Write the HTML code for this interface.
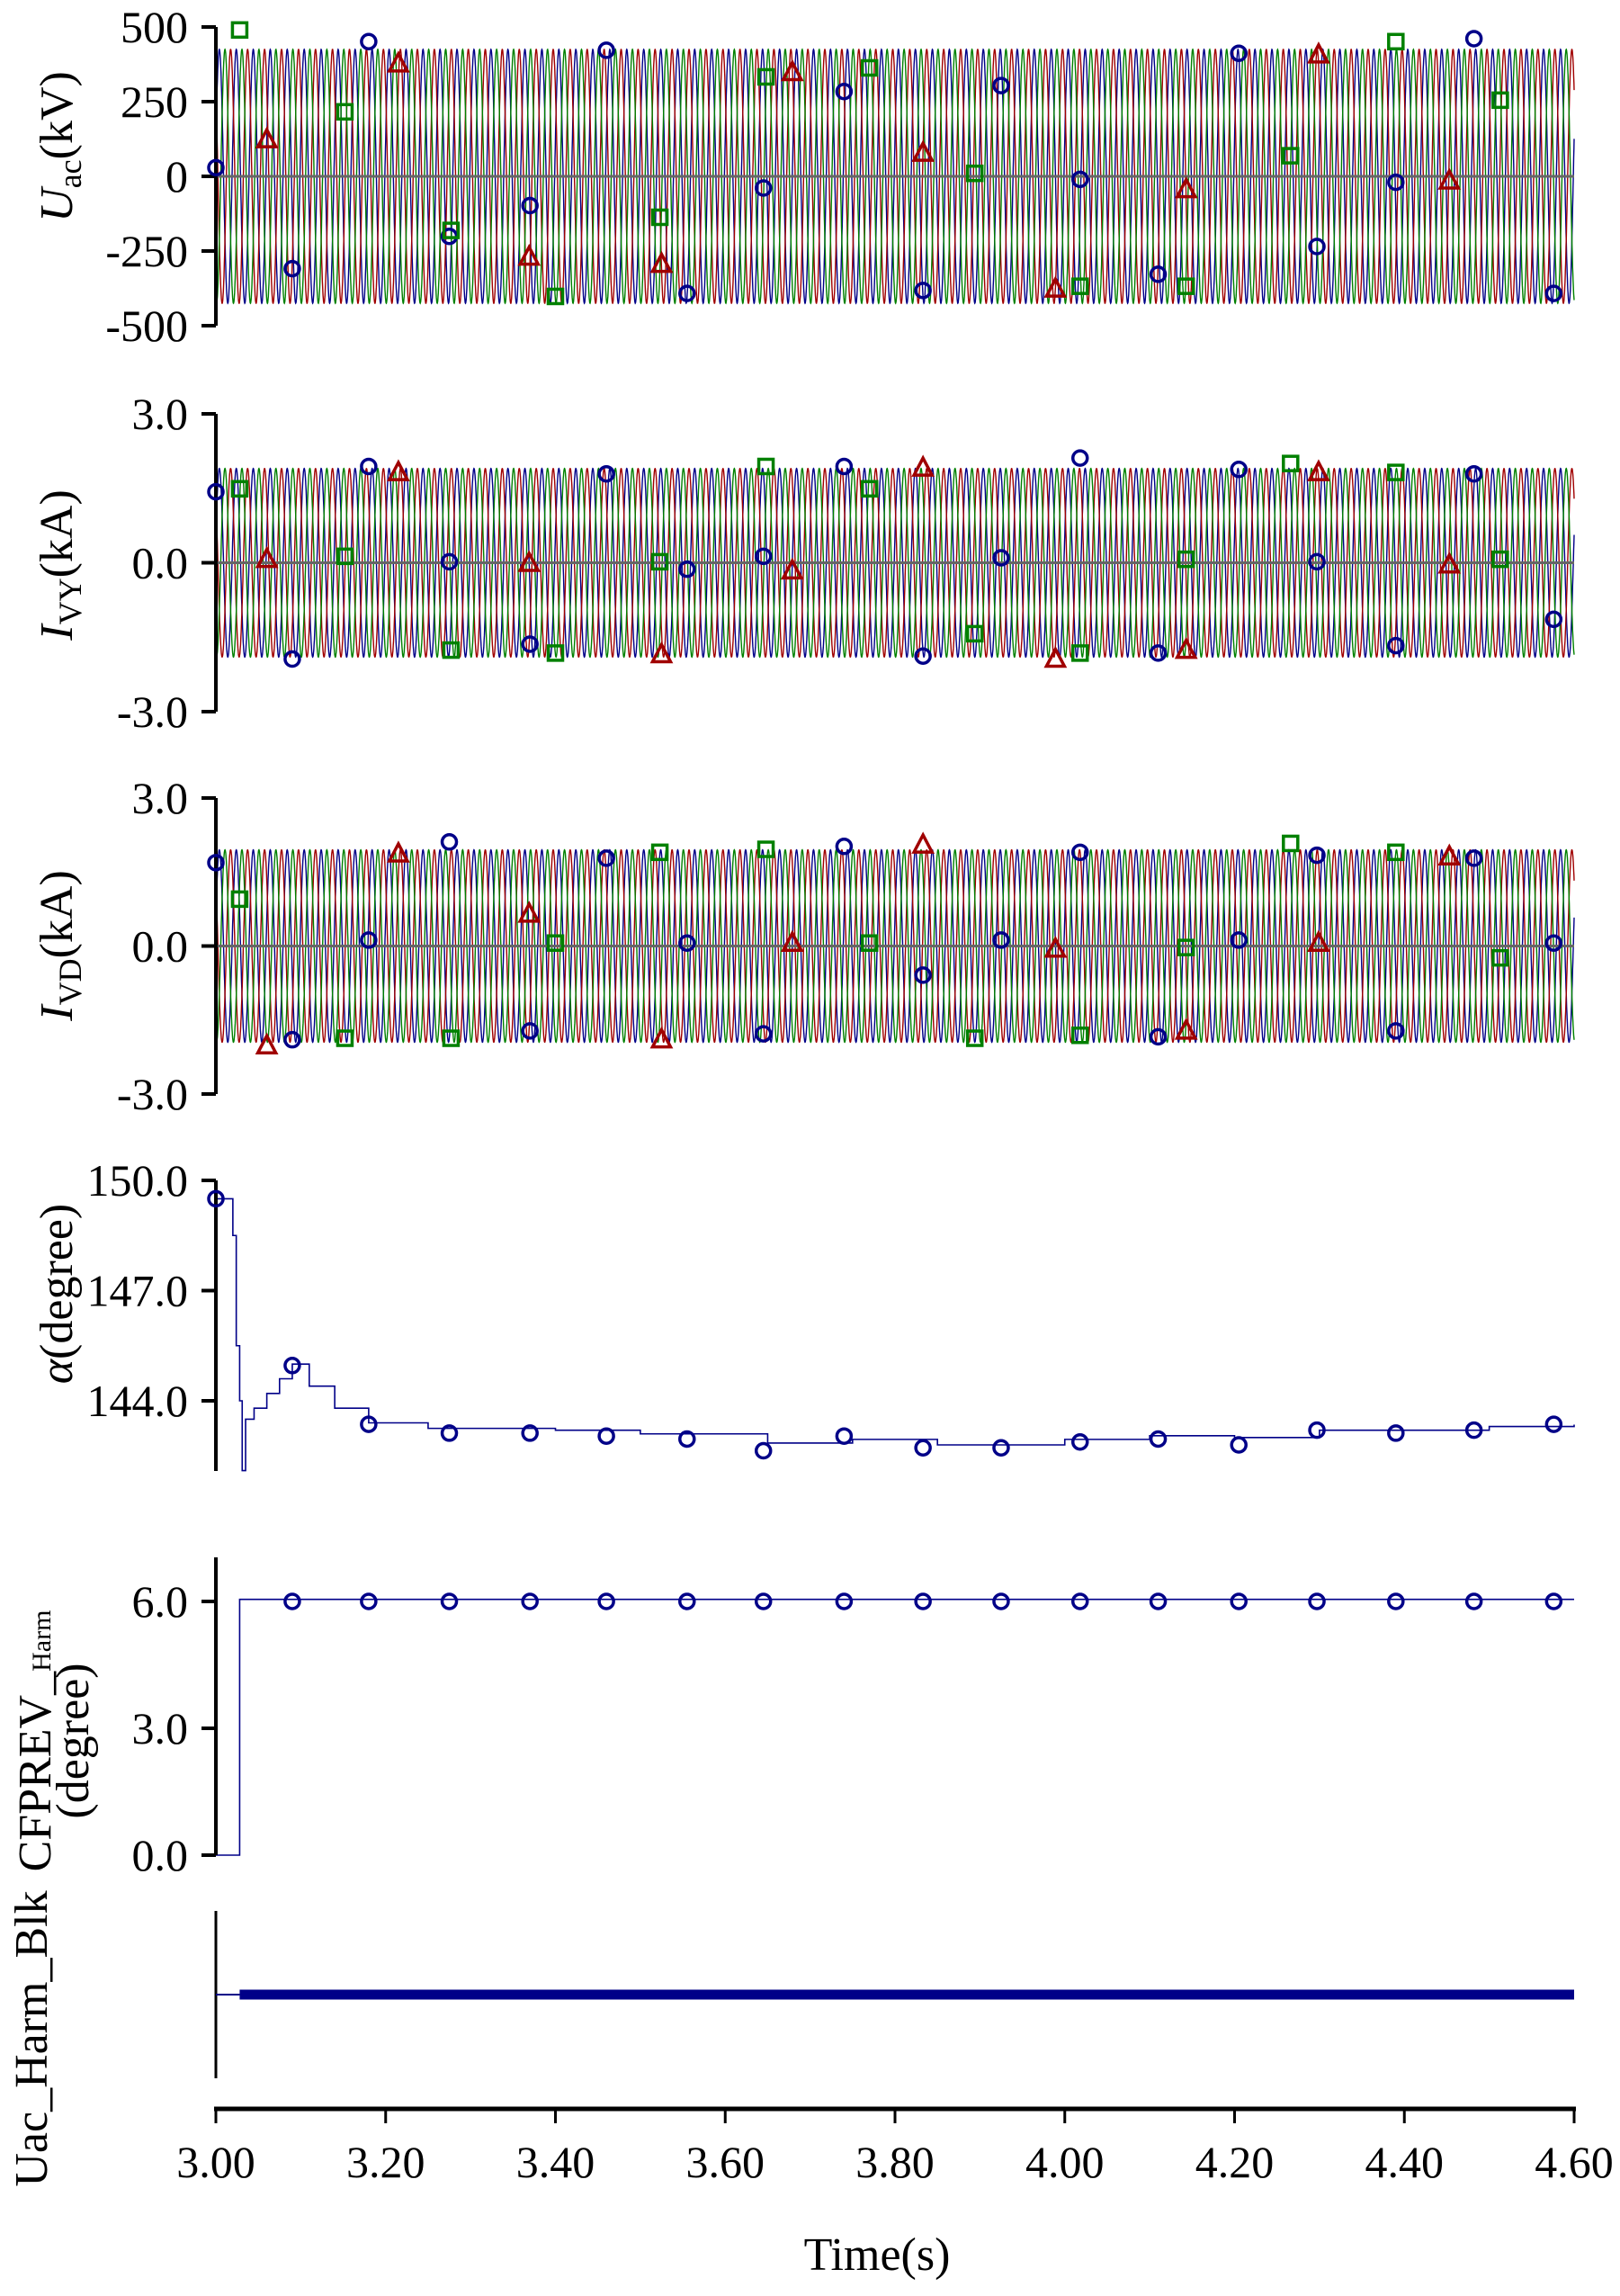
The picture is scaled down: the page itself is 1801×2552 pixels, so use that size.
<!DOCTYPE html>
<html><head><meta charset="utf-8"><style>
html,body{margin:0;padding:0;background:#fff}
svg{display:block}
text{font-family:"Liberation Serif",serif;fill:#000}
</style></head><body>
<svg id="chart" xmlns="http://www.w3.org/2000/svg" width="1801" height="2552" viewBox="0 0 1801 2552">
<g id="layer"></g>
</svg>
<script>
// ---------- data ----------
const xTicks = [3.0,3.2,3.4,3.6,3.8,4.0,4.2,4.4,4.6];
const xTickLabels = ["3.00","3.20","3.40","3.60","3.80","4.00","4.20","4.40","4.60"];
const circleT = [3.00,3.09,3.18,3.275,3.37,3.46,3.555,3.645,3.74,3.833,3.925,4.018,4.11,4.205,4.297,4.39,4.482,4.576];
const squareT = [3.028,3.152,3.277,3.40,3.523,3.648,3.77,3.894,4.018,4.143,4.266,4.39,4.513];
const triT = [3.06,3.215,3.369,3.525,3.679,3.833,3.989,4.143,4.299,4.453];

const uacCircle = [29,-309,451,-201,-98,422,-392,-39,284,-382,304,-10,-328,412,-235,-20,461,-392];
const uacSquare = [490,216,-181,-402,-137,333,363,10,-368,-368,69,451,255];
const uacTri = [123,377,-270,-294,348,78,-377,-44,407,-15];

const ivyCircle = [1.43,-1.94,1.94,0.02,-1.64,1.79,-0.13,0.13,1.94,-1.88,0.10,2.11,-1.82,1.88,0.02,-1.67,1.79,-1.14];
const ivySquare = [1.49,0.13,-1.76,-1.82,0.02,1.94,1.49,-1.43,-1.82,0.07,2.00,1.82,0.07];
const ivyTri = [0.07,1.82,-0.01,-1.85,-0.16,1.91,-1.94,-1.76,1.82,-0.04];

const ivdCircle = [1.69,-1.90,0.12,2.11,-1.72,1.78,0.06,-1.78,2.02,-0.59,0.12,1.90,-1.84,0.12,1.84,-1.72,1.78,0.06];
const ivdSquare = [0.95,-1.87,-1.87,0.06,1.90,1.96,0.06,-1.87,-1.81,-0.03,2.08,1.90,-0.24];
const ivdTri = [-2.02,1.87,0.65,-1.90,0.06,2.05,-0.06,-1.72,0.06,1.81];

const waveAmp = [425, 1.9, 1.95];
const waveFreq = 50;

const alphaT = [3.00,3.018,3.02,3.024,3.028,3.031,3.035,3.045,3.06,3.075,3.09,3.11,3.14,3.18,3.25,3.4,3.5,3.65,3.75,3.85,4.0,4.1,4.2,4.3,4.4,4.5,4.6];
const alphaV = [149.5,149.5,148.5,145.5,144,142.1,143.5,143.8,144.2,144.6,145.0,144.4,143.8,143.4,143.25,143.2,143.1,142.85,142.95,142.8,142.95,143.05,143.0,143.2,143.2,143.3,143.35];
const alphaCircle = [149.5,144.96,143.36,143.12,143.12,143.04,142.96,142.64,143.04,142.72,142.72,142.88,142.96,142.8,143.2,143.12,143.2,143.36];

const cfT = [3.0,3.028,3.028,4.6];
const cfV = [0.0,0.0,6.05,6.05];
const cfCircle = [6,6,6,6,6,6,6,6,6,6,6,6,6,6,6,6,6];

const blkT = [3.0,3.028,4.6];
const blkV = [1,1,1];

// ---------- helpers ----------
const NS = "http://www.w3.org/2000/svg";
const layer = document.getElementById('layer');
const X0 = 240, X1 = 1750;
function xs(t){ return X0 + (t-3.0)/(1.6)*(X1-X0); }
function mk(tag, attrs, parent){
  const e = document.createElementNS(NS, tag);
  for (const k in attrs) e.setAttribute(k, attrs[k]);
  (parent||layer).appendChild(e);
  return e;
}
function yScale(d0,d1,p0,p1){ return v => p0 + (v-d0)/(d1-d0)*(p1-p0); }

const BLUE="#000088", RED="#a00000", GREEN="#008000";

function yAxis(ys, top, bottom, ticks, labels, name){
  const g = mk('g',{});
  
  
  mk('line',{x1:X0,y1:top,x2:X0,y2:bottom,stroke:'#000','stroke-width':4},g);
  ticks.forEach((v,i)=>{
    const y = ys(v);
    mk('line',{x1:X0-16,y1:y,x2:X0,y2:y,stroke:'#000','stroke-width':4},g);
    const t = mk('text',{x:209,y:y+17,'text-anchor':'end','font-size':50},g);
    
    
    t.textContent = labels[i];
  });
}
function circles(ts, vs, ys, color, name){
  const g = mk('g',{});
  
  
  ts.forEach((t,i)=>{ if(i<vs.length) mk('circle',{cx:xs(t),cy:ys(vs[i]),r:8,fill:'none',stroke:color,'stroke-width':3.5},g); });
}
function squares(ts, vs, ys, color, name){
  const g = mk('g',{});
  
  
  ts.forEach((t,i)=>{ mk('rect',{x:xs(t)-8,y:ys(vs[i])-8,width:16,height:16,fill:'none',stroke:color,'stroke-width':3.5},g); });
}
function tris(ts, vs, ys, color, name){
  const g = mk('g',{});
  
  
  ts.forEach((t,i)=>{ const x=xs(t), y=ys(vs[i]);
    mk('polygon',{points:`${x},${y-11} ${x+10},${y+8} ${x-10},${y+8}`,fill:'none',stroke:color,'stroke-width':3.5},g); });
}
function wave(ys, amp, name){
  const g = mk('g',{});
  
  
  const cols=[BLUE,RED,GREEN];
  for(let p=0;p<3;p++){
    const dt = 0.00025;
    let d = '';
    for(let k=0; 3+k*dt<=4.6+1e-9; k++){
      const t = 3+k*dt;
      const v = amp*Math.sin(2*Math.PI*waveFreq*t + p*2*Math.PI/3 + 0.3);
      const x = xs(t), y = ys(v);
      d += (k? 'L':'M') + x.toFixed(1)+','+y.toFixed(1);
    }
    mk('path',{d:d,fill:'none',stroke:cols[p],'stroke-width':1.4},g);
  }
  mk('line',{x1:X0,y1:ys(0),x2:X1,y2:ys(0),stroke:'#666','stroke-width':3},g);
}
function stepLine(ts, vs, ys, color, w, name){
  let d='';
  ts.forEach((t,i)=>{ const x=xs(t), y=ys(vs[i]); d += (i?`H${x}V${y}`:`M${x},${y}`); });
  const p = mk('path',{d:d,fill:'none',stroke:color,'stroke-width':w});
  
  
}
function ylabel(x, y, html, name){
  const t = mk('text',{x:0,y:0,'text-anchor':'middle','font-size':52,transform:`translate(${x},${y}) rotate(-90)`});
  
  
  t.innerHTML = html;
}

// ---------- panel 1: Uac ----------
const y1 = yScale(500,-500,30,362);
wave(y1, waveAmp[0], 'uac-waveform');
yAxis(y1,30,362,[500,250,0,-250,-500],["500","250","0","-250","-500"],'uac');
circles(circleT,uacCircle,y1,BLUE,'uac-circle-markers');
squares(squareT,uacSquare,y1,GREEN,'uac-square-markers');
tris(triT,uacTri,y1,RED,'uac-triangle-markers');
ylabel(80,163,'<tspan font-style="italic">U</tspan><tspan font-size="36" dy="10">ac</tspan><tspan dy="-10">(kV)</tspan>','uac-y-axis-title');

// ---------- panel 2: IVY ----------
const y2 = yScale(3,-3,460,791);
wave(y2, waveAmp[1], 'ivy-waveform');
yAxis(y2,460,791,[3,0,-3],["3.0","0.0","-3.0"],'ivy');
circles(circleT,ivyCircle,y2,BLUE,'ivy-circle-markers');
squares(squareT,ivySquare,y2,GREEN,'ivy-square-markers');
tris(triT,ivyTri,y2,RED,'ivy-triangle-markers');
ylabel(80,628,'<tspan font-style="italic">I</tspan><tspan font-size="36" dy="10">VY</tspan><tspan dy="-10">(kA)</tspan>','ivy-y-axis-title');

// ---------- panel 3: IVD ----------
const y3 = yScale(3,-3,887,1216);
wave(y3, waveAmp[2], 'ivd-waveform');
yAxis(y3,887,1216,[3,0,-3],["3.0","0.0","-3.0"],'ivd');
circles(circleT,ivdCircle,y3,BLUE,'ivd-circle-markers');
squares(squareT,ivdSquare,y3,GREEN,'ivd-square-markers');
tris(triT,ivdTri,y3,RED,'ivd-triangle-markers');
ylabel(80,1051,'<tspan font-style="italic">I</tspan><tspan font-size="36" dy="10">VD</tspan><tspan dy="-10">(kA)</tspan>','ivd-y-axis-title');

// ---------- panel 4: alpha ----------
const y4 = yScale(150,144,1312,1557);
stepLine(alphaT,alphaV,y4,BLUE,1.6,'alpha-line');
yAxis(y4,1312,1635,[150,147,144],["150.0","147.0","144.0"],'alpha');
circles(circleT,alphaCircle,y4,BLUE,'alpha-circle-markers');
ylabel(80,1438,'<tspan font-style="italic">α</tspan>(degree)','alpha-y-axis-title');

// ---------- panel 5: CFPREV ----------
const y5 = yScale(0,6,2062,1780);
stepLine(cfT,cfV,y5,BLUE,1.6,'cfprev-line');
yAxis(y5,1731,2062,[6,3,0],["6.0","3.0","0.0"],'cfprev');
circles(circleT.slice(1),cfCircle,y5,BLUE,'cfprev-circle-markers');
ylabel(56,1935,'CFPREV_<tspan font-size="30">Harm</tspan>','cfprev-y-axis-title');
ylabel(98,1935,'(degree)','cfprev-y-axis-unit');

// ---------- panel 6: Uac_Harm_Blk ----------
const y6 = yScale(0,2,2310,2124);
mk('line',{x1:X0,y1:2124,x2:X0,y2:2310,stroke:'#000','stroke-width':3});
mk('line',{x1:X0,y1:y6(blkV[0]),x2:xs(blkT[1]),y2:y6(blkV[1]),stroke:BLUE,'stroke-width':2});
const bar = mk('line',{x1:xs(blkT[1]),y1:y6(blkV[1]),x2:xs(blkT[2]),y2:y6(blkV[2]),stroke:BLUE,'stroke-width':11});


ylabel(52,2266,'Uac_Harm_Blk','harm-blk-y-axis-title');

// ---------- x axis ----------
const gx = mk('g',{});


mk('line',{x1:X0-2,y1:2344,x2:X1+2,y2:2344,stroke:'#000','stroke-width':5},gx);
xTicks.forEach((t,i)=>{
  mk('line',{x1:xs(t),y1:2344,x2:xs(t),y2:2360,stroke:'#000','stroke-width':3},gx);
  const tx = mk('text',{x:xs(t),y:2420,'text-anchor':'middle','font-size':50},gx);
  
  
  tx.textContent = xTickLabels[i];
});
const xt = mk('text',{x:975,y:2523,'text-anchor':'middle','font-size':52});


xt.textContent = 'Time(s)';
</script>
</body></html>
